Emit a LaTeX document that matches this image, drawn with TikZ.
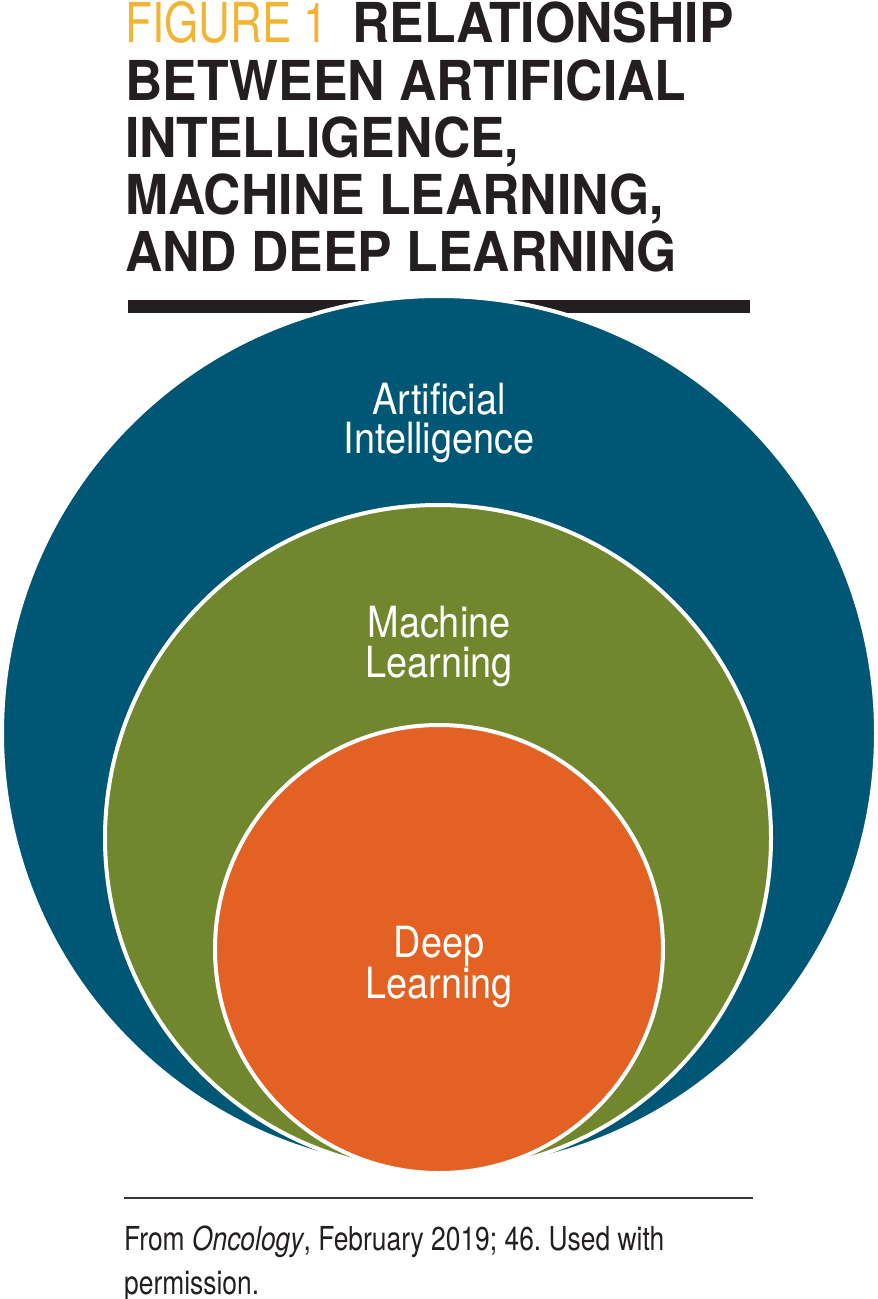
\documentclass[tikz,border=0pt]{standalone}
\usepackage{fontspec}
\setmainfont{TeX Gyre Heros}
\newfontfamily\headfont{TeX Gyre Heros}[FakeStretch=0.94]
\newfontfamily\figfont{TeX Gyre Heros}[FakeStretch=0.8]
\newfontfamily\labelfont{TeX Gyre Heros}[FakeStretch=0.88]
\newfontfamily\notefont{TeX Gyre Heros}[FakeStretch=0.8]
\frenchspacing

\definecolor{aiblue}{RGB}{0,86,117}
\definecolor{mlgreen}{RGB}{113,135,46}
\definecolor{dlorange}{RGB}{227,97,34}
\definecolor{figyellow}{RGB}{241,180,52}
\definecolor{inkblack}{RGB}{35,31,32}

\tikzset{
  headline/.style={anchor=base west, inner sep=0pt, text=inkblack,
    font=\headfont\bfseries\fontsize{55}{57}\selectfont},
  circlabel/.style={anchor=base, inner sep=0pt, text=white,
    font=\labelfont\fontsize{43}{46}\selectfont},
  ring/.style={draw=white, line width=4pt},
  noteline/.style={anchor=base west, inner sep=0pt, text=inkblack,
    font=\notefont\fontsize{33}{44}\selectfont},
}

\begin{document}
\begin{tikzpicture}[x=1pt, y=-1pt]
    \useasboundingbox (0, 0) rectangle (878, 1299);
    % title
    \node[headline, text=figyellow, font=\figfont\fontsize{55}{57}\selectfont] (fig) at (125, 42) {FIGURE 1};
    \node[headline] (rel) at (352, 42) {RELATIONSHIP};
    \node[headline] (t2) at (125, 100) {BETWEEN ARTIFICIAL};
    \node[headline] (t3) at (125, 157) {INTELLIGENCE,};
    \node[headline] (t4) at (125, 214) {MACHINE LEARNING,};
    \node[headline] (t5) at (125, 271) {AND DEEP LEARNING};
    \fill[inkblack] (128, 300) rectangle (750, 313);
    % nested circles
    \draw[ring, fill=aiblue] (439, 733) circle[radius=437pt];
    \draw[ring, fill=mlgreen] (438, 838) circle[radius=333pt];
    \draw[ring, fill=dlorange] (439, 949) circle[radius=224pt];
    \node[circlabel] (ai1) at (439, 414) {Artificial};
    \node[circlabel] (ai2) at (439, 453) {Intelligence};
    \node[circlabel] (ml1) at (439, 637) {Machine};
    \node[circlabel] (ml2) at (439, 677) {Learning};
    \node[circlabel] (dl1) at (439, 957) {Deep};
    \node[circlabel] (dl2) at (439, 998) {Learning};
    % source note
    \draw[inkblack!90, line width=2pt] (124, 1198) -- (753, 1198);
    \node[noteline] (src1) at (124, 1250) {From \textit{Oncology}, February 2019; 46. Used with};
    \node[noteline] (src2) at (124, 1294) {permission.};
\end{tikzpicture}
\end{document}
